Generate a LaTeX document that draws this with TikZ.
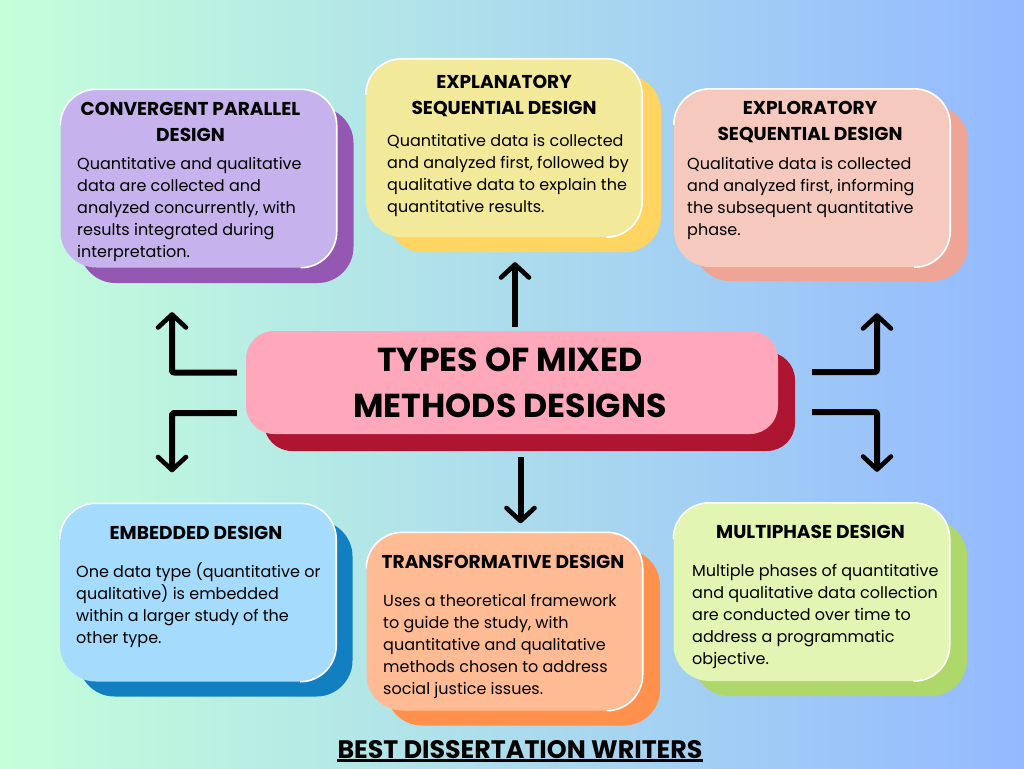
\documentclass[tikz,border=0pt]{standalone}
\usepackage{fontspec}
\setmainfont{Poppins}
\usetikzlibrary{arrows.meta,positioning}
\tikzset{
  crd/.style={rectangle, rounded corners=36pt, minimum width=#1, minimum height=178pt, inner sep=0pt},
  crd/.default=276pt,
  shd/.style={rectangle, rounded corners=36pt, minimum width=#1, minimum height=176pt, inner sep=0pt},
  shd/.default=274pt,
  hd/.style={align=center, inner sep=0pt, font=\fontsize{18.6}{26}\selectfont\bfseries},
  bd/.style={align=left, inner sep=0pt, font=\fontsize{16}{22}\selectfont},
  conn/.style={line width=6pt, line join=round, rounded corners=2pt, -{Straight Barb[length=13pt,width=28pt,line width=4.6pt,round]}},
  edg/.style={white, line width=1.6pt, rounded corners=36pt}
}
\definecolor{bgleft}{HTML}{C4FFDA}
\definecolor{bgright}{HTML}{94B9FF}
\begin{document}
\begin{tikzpicture}[x=1pt,y=-1pt]
	\useasboundingbox (0,0) rectangle (1024,768);
	\fill[left color=bgleft, right color=bgright] (0,0) rectangle (1024,768);
	% shadows
	\node[shd, fill={rgb,255:red,149;green,88;blue,178}] (convs) at (216.5,195) {};
	\node[shd, minimum height=177pt, fill={rgb,255:red,255;green,212;blue,96}] (expls) at (524,163.5) {};
	\node[shd, fill={rgb,255:red,238;green,165;blue,150}] (explos) at (831,193) {};
	\node[shd, fill={rgb,255:red,18;green,128;blue,192}] (embs) at (215.5,608.5) {};
	\node[shd, fill={rgb,255:red,255;green,145;blue,77}] (transs) at (523,637.5) {};
	\node[shd, fill={rgb,255:red,175;green,216;blue,106}] (mults) at (830,608) {};
	\node[shd=531pt, rounded corners=28pt, minimum height=99pt, fill={rgb,255:red,173;green,21;blue,49}] (titles) at (529.5,401.5) {};
	% cards
	\node[crd, fill={rgb,255:red,198;green,178;blue,236}] (conv) at (198.5,178.5) {};
	\node[crd, fill={rgb,255:red,243;green,233;blue,154}] (expl) at (504,148) {};
	\node[crd, fill={rgb,255:red,245;green,201;blue,190}] (explo) at (812,178) {};
	\node[crd, fill={rgb,255:red,165;green,220;blue,254}] (emb) at (198,592.5) {};
	\node[crd, fill={rgb,255:red,255;green,188;blue,148}] (trans) at (504.5,621.5) {};
	\node[crd, fill={rgb,255:red,227;green,245;blue,179}] (mult) at (811.5,592) {};
	\node[crd=532pt, rounded corners=28pt, minimum height=103pt, fill={rgb,255:red,255;green,168;blue,188}] (title) at (512,382.5) {};
	% white edges
	\foreach \c in {conv,expl,explo,emb,trans,mult}
		\draw[edg] ([yshift=-36pt]\c.north west) -- (\c.north west) -- (\c.north east) -- (\c.south east) -- ([xshift=-36pt]\c.south east);
	% headings
	\node[hd] (convh) at (190.5,122) {CONVERGENT PARALLEL\\DESIGN};
	\node[hd] (explh) at (504,95.5) {EXPLANATORY\\SEQUENTIAL DESIGN};
	\node[hd] (exploh) at (810,122) {EXPLORATORY\\SEQUENTIAL DESIGN};
	\node[hd] (embh) at (196,533) {EMBEDDED DESIGN};
	\node[hd] (transh) at (503,562) {TRANSFORMATIVE DESIGN};
	\node[hd] (multh) at (810.5,532) {MULTIPHASE DESIGN};
	% texts
	\node[bd, anchor=north west] (convb) at (77,157.5) {Quantitative and qualitative\\data are collected and\\analyzed concurrently, with\\results integrated during\\interpretation.};
	\node[bd, anchor=north west] (explb) at (387,134.5) {Quantitative data is collected\\and analyzed first, followed by\\qualitative data to explain the\\quantitative results.};
	\node[bd, anchor=north west] (explob) at (687,157.5) {Qualitative data is collected\\and analyzed first, informing\\the subsequent quantitative\\phase.};
	\node[bd, anchor=north west] (embb) at (76,562.5) {One data type (quantitative or\\qualitative) is embedded\\within a larger study of the\\other type.};
	\node[bd, anchor=north west] (transb) at (383,594.5) {Uses a theoretical framework\\to guide the study, with\\quantitative and qualitative\\methods chosen to address\\social justice issues.};
	\node[bd, anchor=north west] (multb) at (692,564.5) {Multiple phases of quantitative\\and qualitative data collection\\are conducted over time to\\address a programmatic\\objective.};
	\node[align=center, inner sep=0pt, font=\fontsize{33.2}{46}\selectfont\bfseries] (titlet) at (510,383) {TYPES OF MIXED\\METHODS DESIGNS};
	\node[inner sep=0pt, font=\fontsize{25.3}{28}\selectfont\bfseries] (best) at (520,750) {BEST DISSERTATION WRITERS};
	\draw[line width=2.4pt] ([yshift=-1.5pt]best.base west) -- ([yshift=-1.5pt]best.base east);
	% arrows
	\draw[conn, shorten <=4pt, shorten >=10pt] ([xshift=3pt]title.north) -- ([xshift=3pt]title.north |- expls.south);
	\draw[conn, shorten <=6pt, shorten >=9pt] ([xshift=-9pt]titles.south) -- ([xshift=-9pt]titles.south |- trans.north);
	\draw[conn, shorten <=9pt, shorten >=29pt] ([yshift=10pt]title.west) -| ([xshift=-44.5pt]convs.south);
	\draw[conn, shorten <=9pt, shorten >=31pt] ([yshift=-30.5pt]title.west) -| ([xshift=-26pt]emb.north);
	\draw[conn, shorten <=17pt, shorten >=32pt] ([yshift=29.5pt]titles.east) -| ([xshift=46pt]explos.south);
	\draw[conn, shorten <=17pt, shorten >=31pt] ([yshift=-10.5pt]titles.east) -| ([xshift=65.5pt]mult.north);
\end{tikzpicture}
\end{document}
